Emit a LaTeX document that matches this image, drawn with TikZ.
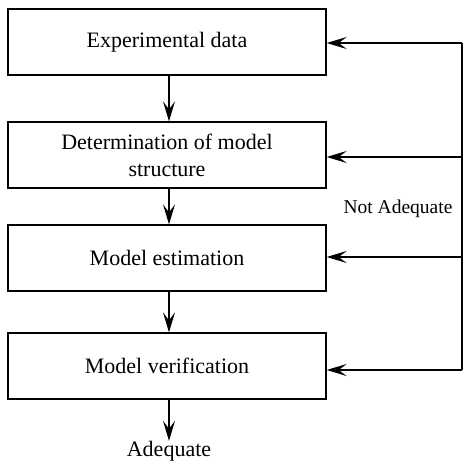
\documentclass[tikz,border=0pt]{standalone}
\usepackage{fontspec}
\setmainfont{Liberation Serif}
\usetikzlibrary{arrows.meta}
\begin{document}
\begin{tikzpicture}[x=1pt,y=-1pt,
  box/.style={draw,line width=1.3pt,minimum width=318pt,minimum height=66pt,inner sep=0pt,align=center,font=\fontsize{22}{27}\selectfont},
  lbl/.style={font=\fontsize{22}{26}\selectfont,inner sep=0pt},
  conn/.style={line width=1.3pt,-{Stealth[length=20pt,width=12pt,inset=8pt]}}]
\useasboundingbox (0,0) rectangle (474,469);
\node[box] (b1) at (167,42) {Experimental data};
\node[box] (b2) at (167,155) {Determination of model\\structure};
\node[box] (b3) at (167,258) {Model estimation};
\node[box] (b4) at (167,366) {Model verification};
\node[lbl] (ad) at (169,451) {Adequate};
\node[lbl,font=\fontsize{19.5}{24}\selectfont] (na) at (398,209) {Not Adequate};
\coordinate (r1) at (462,43);
\coordinate (r2) at (462,157);
\coordinate (r3) at (462,257);
\coordinate (r4) at (462,370);
\draw[conn] (b1.south -| 169,0) -- (b2.north -| 169,0);
\draw[conn] (b2.south -| 169,0) -- (b3.north -| 169,0);
\draw[conn] (b3.south -| 169,0) -- (b4.north -| 169,0);
\draw[conn] (b4.south -| 169,0) -- (ad.north -| 169,0);
\draw[line width=1.3pt] (r1) -- (r4);
\draw[conn] (r1) -- (r1 -| b1.east);
\draw[conn] (r2) -- (r2 -| b2.east);
\draw[conn] (r3) -- (r3 -| b3.east);
\draw[conn] (r4) -- (r4 -| b4.east);
\end{tikzpicture}
\end{document}
